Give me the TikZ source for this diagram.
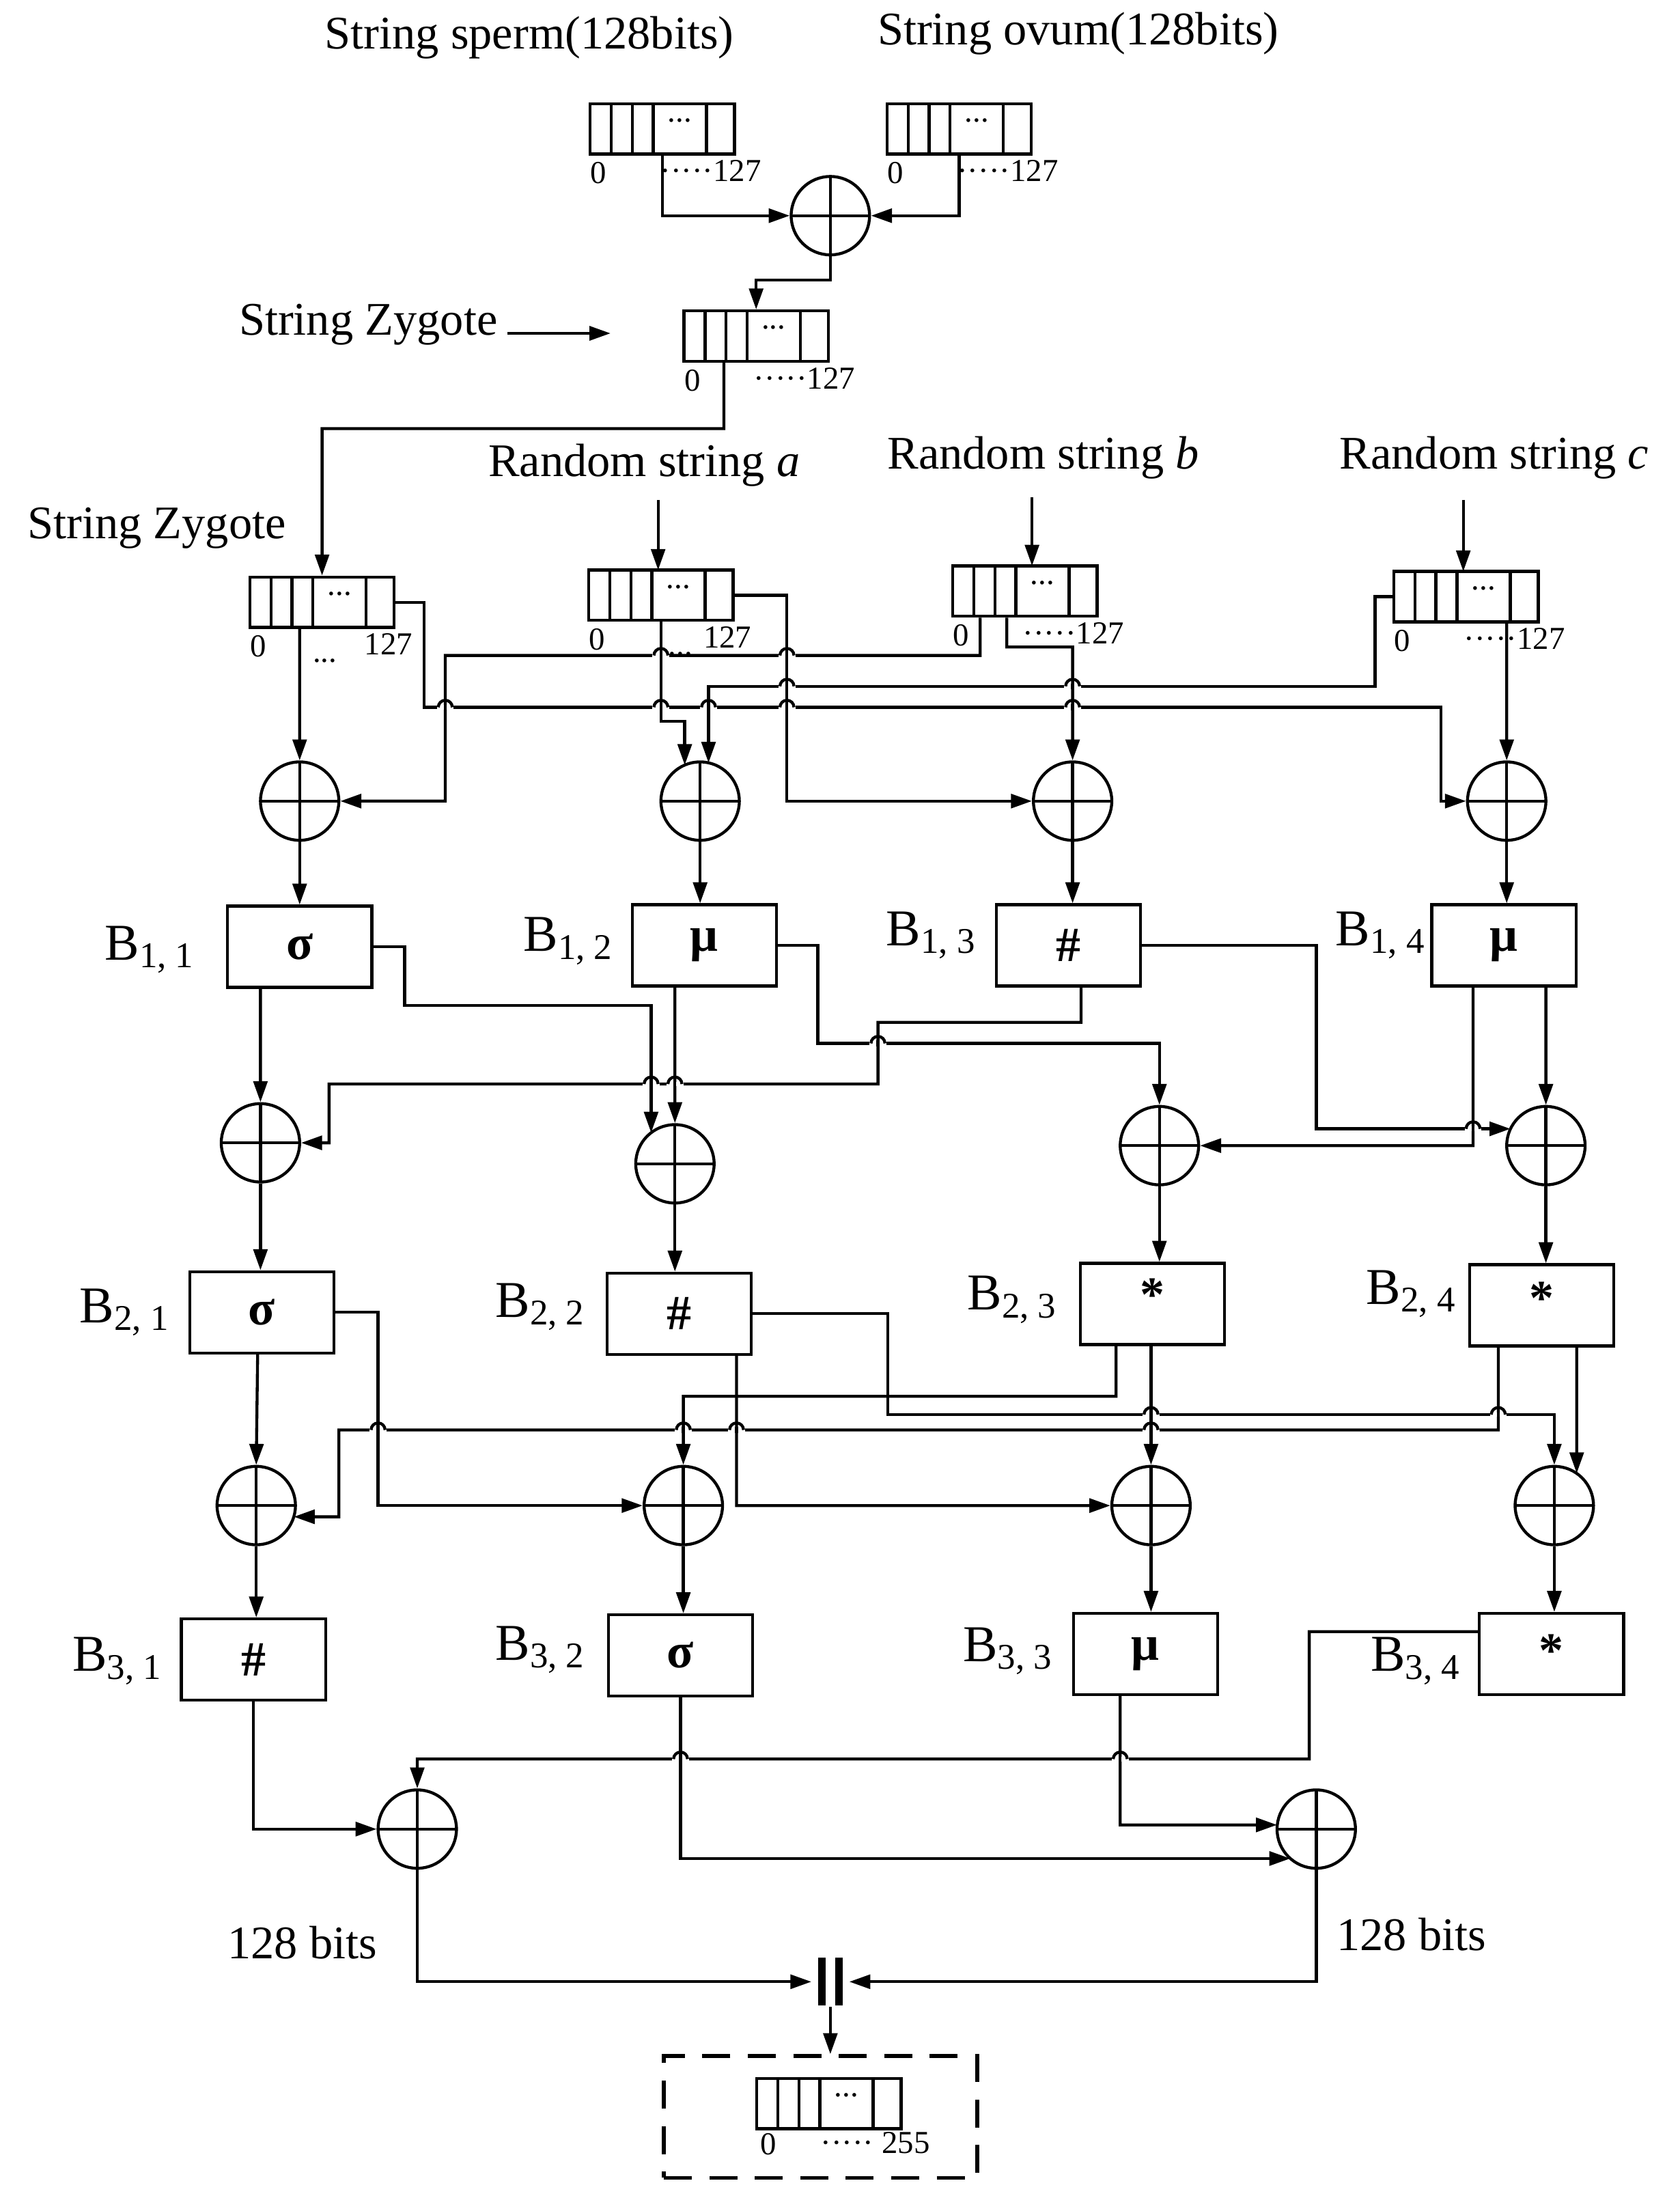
\documentclass[tikz,border=0pt]{standalone}
\usepackage{fontspec}
\setmainfont{Liberation Serif}
\usetikzlibrary{arrows.meta,calc}
\newcommand\hop[2]{\fill[white] (#1-6,#2-1.6) rectangle (#1+6,#2+1.6);
  \draw (#1,#2-2)--(#1,#2+2); \draw (#1-5,#2) arc (180:0:0.1cm);}
\begin{document}
\begin{tikzpicture}[x=0.02cm,y=-0.02cm,line width=1.2pt,>={Triangle[length=0.3cm,width=0.2cm]},
  xr/.style={circle,draw,minimum size=1.12cm,inner sep=0,path picture={
    \draw (path picture bounding box.north)--(path picture bounding box.south)
          (path picture bounding box.west)--(path picture bounding box.east);}},
  reg/.style={draw,minimum width=2.06cm,minimum height=0.72cm,inner sep=0,path picture={
    \foreach \f in {0.146,0.291,0.437,0.806}
      \draw ($(path picture bounding box.south west)!\f!(path picture bounding box.south east)$)--++(0,0.8cm);
    \node[font=\fontsize{13}{13}\selectfont] at ($(path picture bounding box.center)+(0.25cm,0.12cm)$) {...};}},
  op/.style={draw,minimum width=2.06cm,minimum height=1.16cm,inner sep=0,font=\fontsize{20}{20}\selectfont\bfseries},
  txt/.style={font=\fontsize{19}{22}\selectfont},
  bl/.style={font=\fontsize{21}{22}\selectfont},
  lab/.style={font=\fontsize{13}{13}\selectfont,inner sep=0}]
\useasboundingbox (0,0) rectangle (1199.3,1568);
% top labels
\node[txt] (t1) at (378,27) {String sperm(128bits)};
\node[txt] (t2) at (770,24) {String ovum(128bits)};
\node[txt] (t3) at (263,232) {String Zygote};
\node[txt] (t4) at (112,377) {String Zygote};
\node[txt] (ta) at (460,332) {Random string \textit{a}};
\node[txt] (tb) at (745,327) {Random string \textit{b}};
\node[txt] (tc) at (1067,327) {Random string \textit{c}};
% registers
\node[reg] (S) at (473,92) {};
\node[reg] (O) at (685,92) {};
\node[reg] (Z) at (540,240) {};
\node[reg] (Z2) at (230,430) {};
\node[reg] (Ra) at (472,425) {};
\node[reg] (Rb) at (732,422) {};
\node[reg] (Rc) at (1047,426) {};
\foreach \r in {S,O,Z,Rb,Rc}{
  \node[lab] at ([xshift=0.14cm,yshift=-0.25cm]\r.south west) {0};
  \node[lab] at ([xshift=-0.36cm,yshift=-0.22cm]\r.south east) {·····127};}
\foreach \r in {Z2,Ra}{
  \node[lab] at ([xshift=0.14cm,yshift=-0.25cm]\r.south west) {0};
  \node[lab] at ([xshift=-0.1cm,yshift=-0.22cm]\r.south east) {127};}
\node[lab] (d1) at (232,472) {...};
\node[lab] (d2) at (486,467) {...};
% xors
\node[xr] (X0) at (593,154) {};
\node[xr] (X11) at (214,572) {};
\node[xr] (X12) at (500,572) {};
\node[xr] (X13) at (766,572) {};
\node[xr] (X14) at (1076,572) {};
\node[xr] (X21) at (186,816) {};
\node[xr] (X22) at (482,831) {};
\node[xr] (X23) at (828,818) {};
\node[xr] (X24) at (1104,818) {};
\node[xr] (X31) at (183,1075) {};
\node[xr] (X32) at (488,1075) {};
\node[xr] (X33) at (822,1075) {};
\node[xr] (X34) at (1110,1075) {};
\node[xr] (XL) at (298,1306) {};
\node[xr] (XR) at (940,1306) {};
% boxes
\node[op] (B11) at (214,676) {σ};
\node[op] (B12) at (503,675) {μ};
\node[op] (B13) at (763,675) {\#};
\node[op] (B14) at (1074,675) {μ};
\node[op] (B21) at (187,937) {σ};
\node[op] (B22) at (485,938) {\#};
\node[op] (B23) at (823,931) {\raisebox{0.25cm}{*}};
\node[op] (B24) at (1101,932) {\raisebox{0.2cm}{*}};
\node[op] (B31) at (181,1185) {\#};
\node[op] (B32) at (486,1182) {σ};
\node[op] (B33) at (818,1181) {μ};
\node[op] (B34) at (1108,1181) {\raisebox{0.1cm}{*}};
\node[bl] at (107,678) {B\textsubscript{1, 1}};
\node[bl] at (406,672) {B\textsubscript{1, 2}};
\node[bl] at (665,668) {B\textsubscript{1, 3}};
\node[bl] at (986,668) {B\textsubscript{1, 4}};
\node[bl] at (89,937) {B\textsubscript{2, 1}};
\node[bl] at (386,933) {B\textsubscript{2, 2}};
\node[bl] at (723,928) {B\textsubscript{2, 3}};
\node[bl] at (1008,924) {B\textsubscript{2, 4}};
\node[bl] at (84,1186) {B\textsubscript{3, 1}};
\node[bl] at (386,1178) {B\textsubscript{3, 2}};
\node[bl] at (720,1179) {B\textsubscript{3, 3}};
\node[bl] at (1011,1186) {B\textsubscript{3, 4}};
\node[txt] at (216,1387) {128 bits};
\node[txt] at (1008,1381) {128 bits};
% concat & output
\node[minimum width=0.5cm,minimum height=0.68cm,inner sep=0] (cc) at (593,1415) {};
\draw[line width=3pt] (587,1398)--(587,1432) (599,1398)--(599,1432);
\node[draw,dashed,line width=1.5pt,dash pattern=on 0.4cm off 0.25cm,minimum width=4.48cm,minimum height=1.74cm] (D) at (586,1511.5) {};
\node[reg] (R) at (592,1502) {};
\node[lab] at (549,1531) {0};
\node[lab] at (625,1530) {·····\ 255};
% top wiring
\draw[->] (S.south) |- (X0.west);
\draw[->] (O.south) |- (X0.east);
\draw[->] (X0.south) -- (593,200) -- (540,200) -- (Z.north);
\draw[->] (t3.east) ++(0,6) coordinate (za) -- (436,238);
\draw[->] ([xshift=-0.46cm]Z.south) -- (517,306) -- (230,306) -- (Z2.north);
\draw[->] (470,357) -- (470,407);
\draw[->] (737,355) -- (737,404);
\draw[->] (1045,357) -- (1045,408);
% row1 wiring
\draw[->] ([xshift=-0.32cm]Z2.south) -- (X11.north);
\draw[->] (Z2.east) -- (303,430) -- (303,505) -- (1029,505) -- (1029,572) -- (X14.west);
\draw[->] (Ra.south) -- (472,515) -- (489,515) -- (489,546.3);
\draw[->] (Ra.east) -- (562,425) -- (562,572) -- (X13.west);
\draw[->] ([xshift=-0.64cm]Rb.south) -- (700,468) -- (318,468) -- (318,572) -- (X11.east);
\draw[->] ([xshift=-0.26cm]Rb.south) -- (719,462) -- (766,462) -- (X13.north);
\draw[->] (Rc.west) -- (982,426) -- (982,490) -- (506,490) -- (506,544.7);
\draw[->] ([xshift=0.58cm]Rc.south) -- (X14.north);
\foreach \i in {1,2,3,4} \draw[->] (X1\i.south) -- (X1\i.south |- B1\i.north);
% row2 wiring
\draw[->] ([xshift=-0.56cm]B11.south) -- (X21.north);
\draw[->] (B11.east) -- (289,676) -- (289,718) -- (465,718) -- (465,808.8);
\draw[->] ([xshift=-0.42cm]B12.south) -- (X22.north);
\draw[->] (B12.east) -- (584,675) -- (584,745) -- (828,745) -- (X23.north);
\draw[->] ([xshift=0.18cm]B13.south) -- (772,730) -- (627,730) -- (627,774) -- (235,774) -- (235,816) -- (X21.east);
\draw[->] (B13.east) -- (940,675) -- (940,806) -- (1078.7,806);
\draw[->] ([xshift=-0.44cm]B14.south) -- (1052,818) -- (X23.east);
\draw[->] ([xshift=0.6cm]B14.south) -- (X24.north);
\foreach \i in {1,2,3,4} \draw[->] (X2\i.south) -- (X2\i.south |- B2\i.north);
% row3 wiring
\draw[->] ([xshift=-0.06cm]B21.south) -- (X31.north);
\draw[->] (B21.east) -- (270,937) -- (270,1075) -- (X32.west);
\draw[->] (B22.east) -- (634,938) -- (634,1010) -- (1110,1010) -- (X34.north);
\draw[->] ([xshift=0.82cm]B22.south) -- (526,1075) -- (X33.west);
\draw[->] ([xshift=-0.52cm]B23.south) -- (797,997) -- (488,997) -- (X32.north);
\draw[->] ([xshift=-0.02cm]B23.south) -- (X33.north);
\draw[->] ([xshift=-0.62cm]B24.south) -- (1070,1021) -- (242,1021) -- (242,1083) -- (209.8,1083);
\draw[->] ([xshift=0.5cm]B24.south) -- (1126,1052);
\foreach \i in {1,2,3,4} \draw[->] (X3\i.south) -- (X3\i.south |- B3\i.north);
% bottom wiring
\draw[->] (B31.south) |- (XL.west);
\draw[->] ([yshift=0.32cm]B34.west) -- (935,1165) -- (935,1256) -- (298,1256) -- (XL.north);
\draw[->] (B32.south) -- (486,1327) -- (921.5,1327);
\draw[->] ([xshift=-0.36cm]B33.south) -- (800,1303) -- (912,1303);
\draw[->] (XL.south) |- (cc.west);
\draw[->] (XR.south) |- (cc.east);
\draw[->] (cc.south) -- (D.north -| cc.south);
% hops
\hop{472}{468}\hop{562}{468}
\hop{562}{490}\hop{766}{490}
\hop{318}{505}\hop{472}{505}\hop{506}{505}\hop{562}{505}\hop{766}{505}
\hop{627}{745}\hop{465}{774}\hop{482}{774}\hop{1052}{806}
\hop{822}{1010}\hop{1070}{1010}
\hop{270}{1021}\hop{488}{1021}\hop{526}{1021}\hop{822}{1021}
\hop{486}{1256}\hop{800}{1256}
\end{tikzpicture}
\end{document}
